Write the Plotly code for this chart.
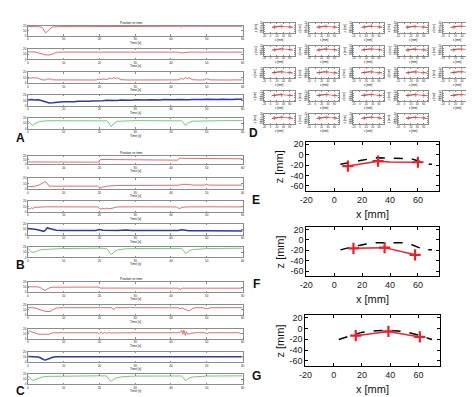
import plotly.graph_objects as go

W, H = 474, 397
FONT = "Liberation Sans, Arial, sans-serif"

# ---------------- time-series strips (panels A, B, C) ----------------
A1_T = [0,1,2,3,4,4.5,5,5.5,6,6.5,7,8,10,15,19.9,20,25,30,35,40,42.5,43,43.5,45,50,55,60]
A1_V = [18.5,18.6,18.5,18.4,17,12,6,9,13,16,17.8,18.3,18.5,18.4,18.4,19.2,19.1,19.2,19.1,19.2,19.1,17.5,19.1,19.2,19.1,19.2,19.2]
A2_T = [0,1,2,3,4,5,6,7,8,10,20,30,40,42,43,44,45,48,49.5,50,50.5,52,55,60]
A2_V = [14,14.2,13.8,12,10,8.5,8.3,10,13.2,13.6,13.5,13.5,13.6,13.5,12,13.3,13.5,13.5,13.4,12.3,13.4,13.5,13.5,13.5]
A3_T = [0,0.5,1,1.5,2,2.5,3,3.5,4,5,5.5,6,6.5,7,10,15,19,20,20.5,21,22,23,23.5,24,24.5,25,25.5,26,28,35,42,43,43.5,44,44.5,45,45.5,46,48,49.5,50,50.5,51,55,60]
A3_V = [8,10,9,10.5,9.5,10,9,7,6.2,6,8,7.5,8.2,6.2,6,6,6,7.5,6.5,8,6.8,9.5,8,10.5,9,10,8.5,6.5,6,6,6.2,9,7,11,8,10,7.5,6.5,6,6.2,8.2,7,6.2,6,6.2]
A4_T = list(range(0, 61))
A4_V = [11.3,11.8,10.9,11.4,9.8,8.4,5.6,5.9,7.2,7.6,7.9,7.5,8.3,8.0,8.6,8.2,9.0,8.7,9.4,9.1,
        10.2,9.8,10.5,10.1,10.8,10.3,11.0,10.6,11.2,10.7,11.3,10.9,11.5,11.0,11.6,11.1,11.7,11.2,11.8,11.3,
        11.9,11.4,12.0,11.5,12.1,11.6,12.2,11.7,12.3,11.8,12.4,11.9,12.5,12.0,12.6,12.1,12.5,12.0,12.6,12.2,12.4]
A5_T = [0,0.5,1,1.3,1.6,2,3,4,6,10,20,22,22.5,23,23.3,23.8,25,30,40,43,43.5,44,44.3,45,46,50,55,60]
A5_V = [15,12,8,6.3,7,9.5,12.5,14,14.8,15,15,14.6,12,6,3.8,8,13.8,15,15,14.6,11,6.3,7.5,11.5,14,14.8,15,15]

B1_T = [0,3,4,5,5.5,6,10,15,19.9,20.1,20.5,25,30,35,41.9,42.2,42.6,45,50,55,60]
B1_V = [5.5,5.4,6,6.8,6.2,5.2,5.0,5.0,5.1,10,11.2,10.8,10.4,10.0,9.6,12.5,14,13.6,13.2,12.9,12.6]
B2_T = [0,1,2,3,4,4.8,5.2,5.6,6,7,10,15,19.5,20,20.5,21,22,25,30,35,40,42,43,44,45,46,48,49.5,50,50.5,52,55,60]
B2_V = [4.5,4.8,5.5,7,10,13.5,12.5,8,5.5,5.5,5.6,5.6,5.6,3,2.5,4,5.5,6.8,6.9,7,7,7.2,8.8,9.4,8.8,7.5,7.4,7.5,9,7.6,7.4,7.4,7.4]
B3_T = [0,0.5,1,1.5,2,3,5,10,15,19.5,20,20.5,21,21.5,22,23,24,25,30,35,41.5,42,42.5,43,45,50,55,60]
B3_V = [7,5.5,7.5,6.5,8.5,9.2,9.4,9.3,9.2,9.2,6.5,5.3,7,5.5,6.8,6,7.5,9.2,9.4,9.3,9.2,7,6.3,8.5,9.3,9.4,9.3,9.2]
B4_T = [0,1,2,3,4,4.5,5,5.5,6,7,8,10,15,19,20,21,25,26.5,27.5,29,35,40,42,43,44,45,50,55,60]
B4_V = [11.5,11,10,8.5,6,6.2,9,12.8,11.5,9.5,8.3,7.8,7.6,7.6,9.4,8.2,7.6,8.8,8.5,7.6,7.5,7.5,7.6,9.3,8.8,7.5,7.2,7.0,7.0]
B5_T = [0,0.5,1,1.5,2,3,4,6,10,20,22,22.5,23,23.4,24,25,27,30,40,43,43.5,44,44.4,45,46,48,50,60]
B5_V = [17,14,10,9.1,10.5,13,14.5,15.6,16.5,17,16.7,13,7,6,10,14,15.8,16.5,17,16.7,13,7.3,8.5,12,14.5,15.8,16.5,17]

C1_T = [0,2,3,3.8,4.3,4.8,5.3,6,7,10,15,19.9,20.2,25,30,35,40,42.3,42.6,43,45,50,55,60]
C1_V = [10.8,10.7,10.5,8,5,3.3,5.5,8.5,10,10.2,10.2,10.2,8.2,8,8,8,8,8,4.7,8,8,8,8,8]
C2_T = [0,1,2,3,4,5,6,6.5,7,8,10,15,20,23.5,24,24.5,30,40,42,42.5,43,44,45,45.5,46,47,49,50,51,55,60]
C2_V = [14.7,14.7,14,11.5,8.5,7,6.8,7.5,10.5,14,14.5,14.6,14.6,14.6,10.5,14.5,14.6,14.6,14.4,12.5,14,11,8,9.5,13.5,14.5,14.5,12.3,14.4,14.6,14.6]
C3_T = [0,0.5,1,1.5,2,3,4,5,6,6.5,7,10,15,19.5,20,20.5,21,21.5,22,22.5,23,25,30,40,42.5,43,43.3,43.6,44,44.3,44.7,45.5,47,49.5,50,50.5,55,59,59.5,60]
C3_V = [12,15.5,14,12.5,10.5,9,8.8,8.7,9,10.5,11.8,12,12,12,10,13.5,10.5,13,10.8,12.5,11.5,12,12,12,12,16.5,9,17,6.5,14,8.5,11,12,12,9.8,12,12,12,9.8,11]
C4_T = [0,1,2,3,3.5,4,4.5,5,5.5,6,7,8,10,15,20,20.3,20.6,25,27,27.3,27.6,30,35,40,43,43.3,45,50,55,60]
C4_V = [10.8,10.8,10.6,10,8.5,6.5,5,4.4,5.5,7.8,9.6,10.3,10.5,10.6,10.6,11.2,10.6,10.6,10.6,10,10.6,10.6,10.6,10.6,10.6,11,10.6,10.6,10.6,10.6]
C5_T = [0,0.5,1,1.5,2,3,4,6,10,20,22,22.5,23,23.4,24,25,27,30,40,43,43.5,44,44.4,45,46,48,50,60]
C5_V = [16.9,14,9,7.5,9,12.5,14.5,15.8,16.5,16.9,16.6,12.5,7,6.2,10,13.5,15.5,16.3,16.9,16.6,13,7.5,8.5,12,14.5,15.8,16.4,16.9]

TIME_TICKS = [0, 10, 20, 30, 40, 50, 60]
STRIP_YTICKS = [0, 10, 20]

# ---------------- panel D: 24 small x-z plots ----------------
D_DASH_X = [4, 10, 20, 30, 43, 55, 61, 66, 70]
D_DASH_Z = [-18, -15, -10, -6, -6, -7, -12, -18, -18]
D_RED_X = [[12, 35, 60], [12, 34, 60], [14, 36, 61], [10, 33, 59], [15, 38, 62],
           [13, 36, 60], [12, 35, 60], [14, 37, 61], [11, 34, 60], [15, 38, 62],
           [12, 35, 60], [13, 36, 61], [14, 37, 60], [12, 35, 59], [15, 38, 62],
           [12, 34, 60], [13, 36, 61], [14, 37, 61], [11, 35, 60], [15, 38, 62],
           [12, 35, 60], [13, 36, 61], [14, 37, 60], [12, 35, 60]]
D_RED_Z = [[-16, -9, -14], [-15, -9, -15], [-15, -8, -13], [-17, -10, -15], [-14, -7, -13],
           [-15, -7, -12], [-16, -9, -14], [-14, -8, -13], [-16, -10, -15], [-15, -8, -14],
           [-14, -8, -16], [-15, -9, -18], [-15, -8, -17], [-16, -9, -16], [-14, -7, -15],
           [-15, -9, -16], [-15, -8, -17], [-14, -8, -16], [-16, -9, -16], [-15, -8, -14],
           [-15, -7, -12], [-15, -8, -13], [-14, -7, -12], [-15, -8, -13]]

# ---------------- panels E, F, G ----------------
E_DASH_X = [4.4, 10.3, 19.7, 30.3, 43.2, 54.9, 60.8, 65.5, 70.1]
E_DASH_Z = [-18.5, -15, -10.6, -6.1, -6.1, -7.4, -12.5, -18.1, -18.5]
E_LINE_X = [9.8, 31.4, 40, 60.0]
E_LINE_Z = [-21.9, -12.5, -14, -14.5]
E_MARK_X = [9.8, 31.4, 60.0]
E_MARK_Z = [-21.9, -12.5, -14.5]

F_DASH_X = [4.4, 12.6, 22, 30.3, 50.2, 54.9, 60.8, 64.3, 70.1]
F_DASH_Z = [-19.3, -13.6, -8.6, -5.4, -5.4, -8.6, -15, -19.3, -19.3]
F_LINE_X = [13.8, 36.1, 58.0]
F_LINE_Z = [-16.3, -15.0, -28.8]

G_DASH_X = [3.6, 10.5, 19.7, 30.1, 40.5, 49.8, 59.0, 66.0, 69.5]
G_DASH_Z = [-20.4, -14.4, -7.3, -4.2, -3.7, -5.5, -11.5, -17.5, -20.4]
G_LINE_X = [15.6, 38.7, 60.9]
G_LINE_Z = [-13.3, -5.5, -15.6]

BIG_XTICKS = [-20, 0, 20, 40, 60]
BIG_YTICKS = [20, 0, -20, -40, -60]

# ----------------------------------------------------------------------
fig = go.Figure()
layout = {}
annotations = []
counter = [0]

RED = "#e05a5a"
GREEN = "#5ccc5c"
BLUE = "#2a3aa8"


def new_axes(box, xr, yr, xticks, yticks, tick_size, line_col, line_w,
             ticklen=2, xtext=None, ytext=None):
    counter[0] += 1
    n = counter[0]
    l, t, r, b = box
    sfx = "" if n == 1 else str(n)
    common = dict(showgrid=False, zeroline=False, showline=True, linecolor=line_col,
                  linewidth=line_w, mirror="ticks", ticks="inside", ticklen=ticklen,
                  tickwidth=max(0.5, line_w * 0.8), tickcolor=line_col,
                  tickfont=dict(size=tick_size, family=FONT, color="#222"))
    layout["xaxis" + sfx] = dict(common, domain=[l / W, r / W], range=xr,
                                 anchor="y" + sfx, tickvals=xticks,
                                 ticktext=xtext if xtext else [str(v) for v in xticks])
    layout["yaxis" + sfx] = dict(common, domain=[1 - b / H, 1 - t / H], range=yr,
                                 anchor="x" + sfx, tickvals=yticks,
                                 ticktext=ytext if ytext else [str(v) for v in yticks])
    return "x" + sfx, "y" + sfx


def text(x, y, s, size, bold=False, angle=0, color="#111"):
    annotations.append(dict(x=x / W, y=1 - y / H, xref="paper", yref="paper",
                            text=f"<b>{s}</b>" if bold else s, showarrow=False,
                            textangle=angle, xanchor="center", yanchor="middle",
                            borderpad=0,
                            font=dict(size=size, family=FONT, color=color)))


# strips
panels = [
    ("A", 129, [(16, 26), (39, 50), (63, 74), (86, 97), (109, 120)],
     [(A1_T, A1_V, RED), (A2_T, A2_V, RED), (A3_T, A3_V, RED), (A4_T, A4_V, BLUE), (A5_T, A5_V, GREEN)]),
    ("B", 258, [(147, 156), (170, 181), (193, 204), (216, 227), (239, 250)],
     [(B1_T, B1_V, RED), (B2_T, B2_V, RED), (B3_T, B3_V, RED), (B4_T, B4_V, BLUE), (B5_T, B5_V, GREEN)]),
    ("C", 385, [(275, 285), (298, 308), (322, 332), (345, 356), (368, 378)],
     [(C1_T, C1_V, RED), (C2_T, C2_V, RED), (C3_T, C3_V, RED), (C4_T, C4_V, BLUE), (C5_T, C5_V, GREEN)]),
]
SL, SR = 13, 232
for letter, ly, boxes, series in panels:
    for i, ((top, bot), (tt, vv, col)) in enumerate(zip(boxes, series)):
        xa, ya = new_axes((SL, top, SR, bot), [0, 60], [0, 20], TIME_TICKS, STRIP_YTICKS,
                          3, "#8c8c8c", 0.6, ticklen=1.5)
        w = 1.5 if col == BLUE else 0.9
        fig.add_trace(go.Scatter(x=tt, y=vv, mode="lines", line=dict(color=col, width=w),
                                 xaxis=xa, yaxis=ya, hoverinfo="skip", showlegend=False))
        text((SL + SR) / 2, bot + 7, "Time [s]", 3.2)
        if i == 0:
            text((SL + SR) / 2 - 4, top - 3, "Position vs time", 3.2)
    text(5.5, ly, letter, 12, bold=True)

# panel D grid
col_lefts = [254, 299.5, 345, 390.5, 436]
row_tops = [13, 36, 59, 82, 105]
k = 0
for r_i, rt in enumerate(row_tops):
    ncols = 5 if r_i < 4 else 4
    for c_i in range(ncols):
        cl = col_lefts[c_i]
        box = (cl, rt, cl + 31, rt + 10)
        xa, ya = new_axes(box, [-20, 75], [-70, 25], BIG_XTICKS, BIG_YTICKS,
                          2.6, "#8c8c8c", 0.6, ticklen=1.2)
        fig.add_trace(go.Scatter(x=D_DASH_X, y=D_DASH_Z, mode="lines",
                                 line=dict(color="#222", width=0.6, dash="dash"),
                                 xaxis=xa, yaxis=ya, hoverinfo="skip", showlegend=False))
        fig.add_trace(go.Scatter(x=D_RED_X[k], y=D_RED_Z[k], mode="lines+markers",
                                 line=dict(color="#e03030", width=0.6),
                                 marker=dict(symbol="cross-thin", size=3,
                                             line=dict(color="#e03030", width=0.6)),
                                 xaxis=xa, yaxis=ya, hoverinfo="skip", showlegend=False))
        text(cl + 15.5, rt + 17, "x [mm]", 2.8)
        text(cl - 9, rt + 5, "z [mm]", 2.8, angle=-90)
        k += 1
text(243, 124, "D", 12, bold=True)

# panels E, F, G
big = [
    ("E", (297, 133, 432, 183), 192, E_DASH_X, E_DASH_Z, E_LINE_X, E_LINE_Z, E_MARK_X, E_MARK_Z),
    ("F", (297, 219, 432, 269), 277, F_DASH_X, F_DASH_Z, F_LINE_X, F_LINE_Z, F_LINE_X, F_LINE_Z),
    ("G", (296, 308, 433, 360), 370, G_DASH_X, G_DASH_Z, G_LINE_X, G_LINE_Z, G_LINE_X, G_LINE_Z),
]
for letter, box, ly, dx, dz, lx, lz, mx, mz in big:
    xa, ya = new_axes(box, [-20, 75], [-70, 25], BIG_XTICKS, BIG_YTICKS,
                      9, "#000", 1, ticklen=3)
    fig.add_trace(go.Scatter(x=dx, y=dz, mode="lines",
                             line=dict(color="#000", width=1.5, dash="dash"),
                             xaxis=xa, yaxis=ya, hoverinfo="skip", showlegend=False))
    fig.add_trace(go.Scatter(x=lx, y=lz, mode="lines", line=dict(color="#e8202a", width=1.5),
                             xaxis=xa, yaxis=ya, hoverinfo="skip", showlegend=False))
    fig.add_trace(go.Scatter(x=mx, y=mz, mode="markers",
                             marker=dict(symbol="cross-thin", size=8,
                                         line=dict(color="#e8202a", width=2.2)),
                             xaxis=xa, yaxis=ya, hoverinfo="skip", showlegend=False))
    l, t, r, b = box
    text((l + r) / 2, b + 23, "x [mm]", 11)
    text(270, (t + b) / 2, "z [mm]", 11, angle=-90)
    text(246, ly, letter, 12, bold=True)

layout.update(width=W, height=H, autosize=False, margin=dict(l=0, r=0, t=0, b=0),
              paper_bgcolor="white", plot_bgcolor="white", showlegend=False,
              annotations=annotations, font=dict(family=FONT))
fig.update_layout(**layout)
fig.write_html("out.html")
